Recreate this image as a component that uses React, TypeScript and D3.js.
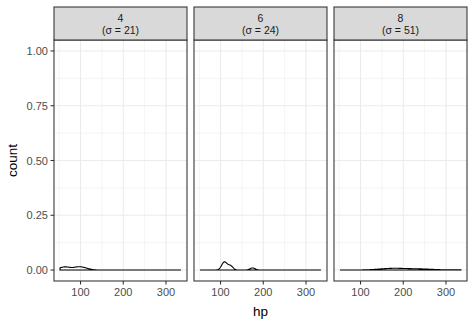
import React from "react";
import * as d3 from "d3";

const facets = ["4", "6", "8"];
const sigmaLabels = ["(σ = 21)", "(σ = 24)", "(σ = 51)"];
const hp4 = [93, 62, 95, 66, 52, 65, 97, 66, 91, 113, 109];
const hp6 = [110, 110, 110, 175, 105, 123, 123];
const hp8 = [175, 245, 180, 180, 205, 215, 230, 150, 150, 245, 175, 264, 335, 180];
const groups = [hp4, hp6, hp8];
const xTicks = [100, 200, 300];
const xMinor = [50, 150, 250];
const yTicks = [0, 0.25, 0.5, 0.75, 1];
const yTickLabels = ["0.00", "0.25", "0.50", "0.75", "1.00"];
const yMinor = [0.125, 0.375, 0.625, 0.875];

function bwNrd0(v: number[]) {
  const s = [...v].sort((a, b) => a - b);
  const sd = d3.deviation(s) as number;
  const iqr = (d3.quantile(s, 0.75) as number) - (d3.quantile(s, 0.25) as number);
  const lo = Math.min(sd, iqr / 1.34);
  return 0.9 * lo * Math.pow(s.length, -0.2);
}
function kde(v: number[], lo: number, hi: number, n = 512) {
  const bw = bwNrd0(v);
  const out: [number, number][] = [];
  for (let i = 0; i < n; i++) {
    const x = lo + ((hi - lo) * i) / (n - 1);
    let s = 0;
    for (const xi of v) {
      const z = (x - xi) / bw;
      s += Math.exp(-0.5 * z * z);
    }
    out.push([x, s / (v.length * bw * Math.sqrt(2 * Math.PI))]);
  }
  return out;
}

export default function App() {
  const W = 474, H = 324;
  const left = 54, right = 467, gap = 7;
  const pw = (right - left - 2 * gap) / 3;
  const stripTop = 7, panelTop = 40, panelBottom = 281;
  const all = groups.flat();
  const xmin = d3.min(all) as number, xmax = d3.max(all) as number;
  const ex = (xmax - xmin) * 0.05;
  const y = d3.scaleLinear().domain([-0.05, 1.05]).range([panelBottom, panelTop]);
  const font = "Liberation Sans, Arial, Helvetica, sans-serif";
  return (
    <svg width={W} height={H} style={{ display: "block", position: "absolute", left: 0, top: 0 }} fontFamily={font}>
      <rect x={0} y={0} width={W} height={H} fill="white" />
      {facets.map((f, i) => {
        const x0 = left + i * (pw + gap);
        const x = d3.scaleLinear().domain([xmin - ex, xmax + ex]).range([x0, x0 + pw]);
        const dens = kde(groups[i], xmin, xmax);
        const area = d3.area<[number, number]>().x((d) => x(d[0])).y0(y(0)).y1((d) => y(d[1]));
        return (
          <g key={f}>
            <rect x={x0} y={panelTop} width={pw} height={panelBottom - panelTop} fill="white" />
            {xMinor.map((t) => (
              <line key={"xm" + t} x1={x(t)} x2={x(t)} y1={panelTop} y2={panelBottom} stroke="#ebebeb" strokeWidth={0.55} />
            ))}
            {yMinor.map((t) => (
              <line key={"ym" + t} x1={x0} x2={x0 + pw} y1={y(t)} y2={y(t)} stroke="#ebebeb" strokeWidth={0.55} />
            ))}
            {xTicks.map((t) => (
              <line key={"xM" + t} x1={x(t)} x2={x(t)} y1={panelTop} y2={panelBottom} stroke="#ebebeb" strokeWidth={1.07} />
            ))}
            {yTicks.map((t) => (
              <line key={"yM" + t} x1={x0} x2={x0 + pw} y1={y(t)} y2={y(t)} stroke="#ebebeb" strokeWidth={1.07} />
            ))}
            <path d={(area(dens) || "") + "Z"} fill="none" stroke="black" strokeWidth={1.1} />
            <rect x={x0} y={panelTop} width={pw} height={panelBottom - panelTop} fill="none" stroke="#333333" strokeWidth={1.07} />
            <rect x={x0} y={stripTop} width={pw} height={panelTop - stripTop} fill="#d9d9d9" stroke="#333333" strokeWidth={1.07} />
            <text x={x0 + pw / 2} y={22} textAnchor="middle" fontSize={10.5} fill="#1a1a1a">{f}</text>
            <text x={x0 + pw / 2} y={34} textAnchor="middle" fontSize={10.5} fill="#1a1a1a">{sigmaLabels[i]}</text>
            {xTicks.map((t) => (
              <g key={"xt" + t}>
                <line x1={x(t)} x2={x(t)} y1={panelBottom} y2={panelBottom + 3.5} stroke="#333333" strokeWidth={1.07} />
                <text x={x(t)} y={panelBottom + 15} textAnchor="middle" fontSize={11} fill="#4d4d4d">{t}</text>
              </g>
            ))}
          </g>
        );
      })}
      {yTicks.map((t, j) => (
        <g key={"yt" + t}>
          <line x1={left - 3.5} x2={left} y1={y(t)} y2={y(t)} stroke="#333333" strokeWidth={1.07} />
          <text x={left - 6} y={y(t) + 4} textAnchor="end" fontSize={11} fill="#4d4d4d">{yTickLabels[j]}</text>
        </g>
      ))}
      <text x={(left + right) / 2} y={316} textAnchor="middle" fontSize={13.5} fill="black">hp</text>
      <text transform={`translate(17,${(panelTop + panelBottom) / 2}) rotate(-90)`} textAnchor="middle" fontSize={13.5} fill="black">count</text>
    </svg>
  );
}
